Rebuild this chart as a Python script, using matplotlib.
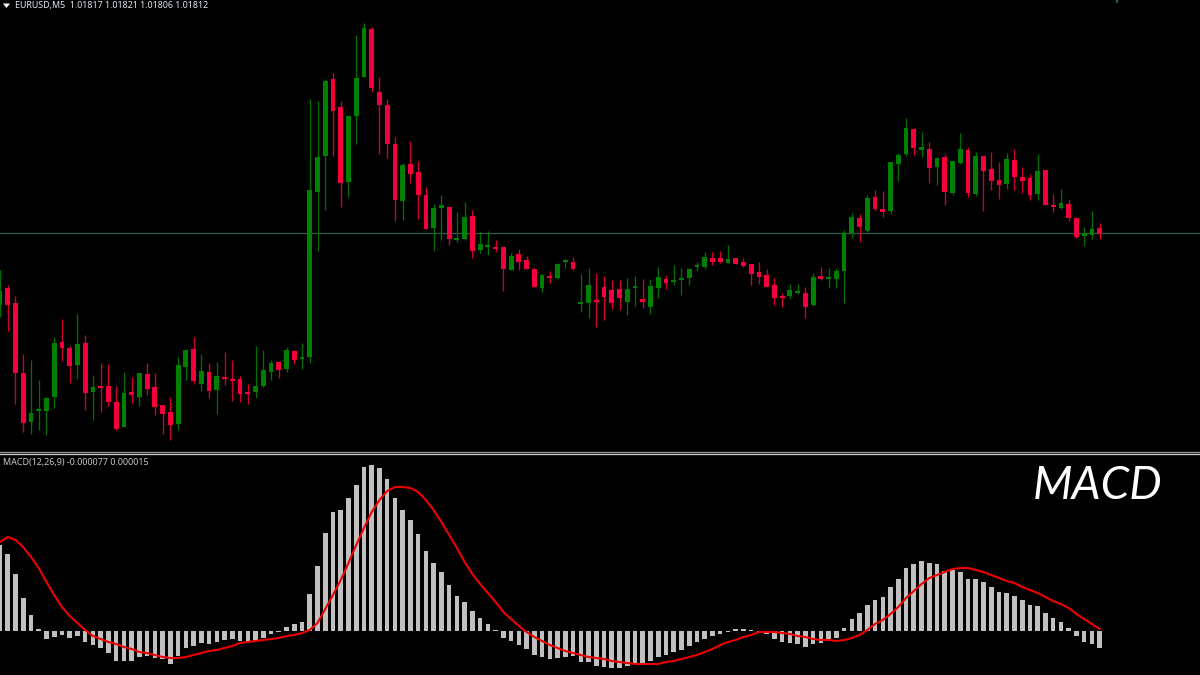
import matplotlib
matplotlib.use("Agg")
import matplotlib.pyplot as plt
import numpy as np

# Candles in vertical chart units (larger = lower price)
direction = ("GRRRGGGGRR" "GRGRRRGRGR" "RRRGGRGRGR" "RRRGGGRGRG" "GGGRRGGGRR"
             "RRGRRRGGRG" "GRGGRRGRRR" "GRGGRGGRRR" "RGGRGGRGGG" "GGRRGRRRRR"
             "RRGGRGRGGG" "GRGRRGGGRG" "RGRGGRGRRR" "GRRRGRRGRR" "GGR")
high = [270,285,296,354,360,380,397,337,319,346,314,335,375,363,364,386,372,377,373,363,
        373,405,397,357,350,337,354,363,362,352,360,376,384,346,350,360,362,347,350,343,
        99,101,79,73,101,116,35,23,27,77,99,137,163,141,161,187,204,195,207,212,
        202,210,232,231,240,247,253,249,256,268,274,271,263,259,257,274,268,273,276,280,
        280,278,276,279,279,267,275,265,268,268,262,252,252,251,245,258,258,264,262,269,
        278,293,284,284,287,273,267,268,268,230,213,214,195,190,191,162,153,118,128,132,
        142,157,154,161,133,147,152,156,152,162,153,149,167,174,154,170,194,189,200,218,
        227,211,223]
low = [317,331,404,432,434,430,435,408,361,383,379,410,420,412,406,430,427,403,406,395,
       415,434,440,430,380,384,391,398,414,385,401,402,404,398,387,380,378,372,364,369,
       363,251,210,156,207,197,144,77,92,154,158,221,220,183,219,229,251,240,245,242,
       240,258,253,255,252,291,270,270,269,287,292,283,279,268,270,312,318,327,320,309,
       310,315,306,308,314,298,289,285,295,285,271,269,265,263,263,264,267,285,284,287,
       305,307,299,294,318,306,280,288,288,303,238,242,232,211,217,214,181,156,155,157,
       183,185,205,195,164,197,196,211,190,199,189,190,193,200,200,205,212,209,221,238,
       246,239,239]
body_top = [291,288,303,373,413,409,398,343,342,348,344,343,387,386,386,402,393,392,373,374,
            387,405,412,365,350,349,371,372,376,377,379,379,392,386,370,363,362,350,351,357,
            190,157,81,79,107,116,78,28,29,92,105,144,165,164,172,195,208,205,207,238,
            217,216,244,245,247,247,256,254,260,269,275,276,264,260,262,302,285,300,287,290,
            289,289,286,299,286,277,279,280,278,269,265,257,258,258,259,258,262,264,272,275,
            285,296,290,291,293,277,276,277,271,233,217,218,198,197,209,162,155,128,129,147,
            149,158,157,161,149,150,156,156,169,180,159,160,177,178,171,170,205,203,204,218,
            233,229,228]
body_bottom = [305,305,373,423,422,410,411,397,348,366,365,393,392,388,402,429,427,395,397,389,
               407,414,425,424,367,381,384,391,390,379,381,394,394,392,386,372,370,369,360,359,
               357,192,156,111,183,182,116,77,88,105,144,200,201,174,195,229,228,208,239,240,
               239,251,250,246,249,269,270,262,269,287,288,277,278,261,269,303,303,302,297,303,
               298,302,288,302,307,288,283,281,279,278,267,267,262,262,263,264,266,274,277,287,
               298,298,296,292,307,305,279,278,279,271,233,227,231,209,212,211,164,154,148,150,
               168,167,192,193,163,193,194,171,181,185,184,177,181,195,194,205,207,208,218,237,
               236,235,234]

# MACD histogram and signal line, in chart units around the zero line
macd_hist = [86,77,57,33,16,2,-8,-6,-4,-7,-5,-11,-14,-17,-22,-30,-30,-30,-26,-25,
             -27,-28,-33,-25,-17,-15,-12,-13,-11,-9,-8,-10,-11,-10,-7,-3,-1,4,7,9,
             37,65,98,119,121,133,146,164,166,163,152,133,121,111,97,80,68,59,46,35,
             29,20,13,7,1,-7,-10,-14,-18,-24,-26,-28,-27,-26,-25,-31,-31,-35,-36,-37,
             -37,-35,-33,-32,-30,-26,-24,-21,-19,-15,-11,-8,-5,-3,-1,2,2,1,-0.5,-3,
             -8,-11,-12,-13,-16,-13,-12,-8,-7,3,12,18,26,31,34,44,52,63,67,70,
             68,67,60,61,59,52,52,49,44,39,38,35,31,26,25,18,13,9,3,-5,
             -11,-13,-17]
signal = [89,94,91,84,74,63,49,36,24,15,8,1,-5,-8,-11,-13,-16,-18,-21,-22,
          -24,-26,-27,-27,-26,-24,-22,-20,-19,-17,-15,-12,-11,-10,-9,-8,-7,-5,-4,-2,
          1,8,22,36,51,68,86,103,119,131,140,144,144,143,139,131,121,109,96,83,
          69,57,47,38,29,19,12,5,-1,-6,-10,-14,-17,-20,-22,-24,-26,-27,-28,-30,
          -31,-32,-33,-33,-33,-33,-31,-30,-28,-26,-24,-21,-18,-14,-11,-9,-6,-4,-1,-1,
          -1,-2,-3,-5,-6,-8,-9,-9,-10,-9,-7,-4,1,7,11,17,24,33,40,47,
          53,56,59,62,63,63,61,59,56,53,50,48,44,41,38,34,30,27,23,17,
          12,7,2]

last_close_level = 233
header = "EURUSD,M5  1.01817 1.01821 1.01806 1.01812"
macd_label = "MACD(12,26,9) -0.000077 0.000015"
big_label = "MACD"

W, H = 1200, 675
BAR_STEP = 7.744
GREEN, RED = "#008000", "#f5003c"

fig = plt.figure(figsize=(W / 100, H / 100), dpi=100, facecolor="black")
ax = fig.add_axes([0, 1 - 451 / H, 1, 451 / H], facecolor="black")
ax2 = fig.add_axes([0, 0, 1, 220 / H], facecolor="black")
xmax = W / BAR_STEP
x = np.arange(len(high))
colors = [GREEN if d == "G" else RED for d in direction]

ax.axhline(last_close_level, color="#2f5a4c", lw=0.9, zorder=1)
wick_colors = ["#007000" if d == "G" else "#d00034" for d in direction]
ax.vlines(x, high, low, colors=wick_colors, lw=0.95, zorder=2)
heights = np.maximum(np.array(body_bottom) - np.array(body_top), 1.5)
ax.bar(x, heights, bottom=body_top, width=4.8 / BAR_STEP, color=colors, linewidth=0, zorder=3)
ax.set_xlim(0, xmax)
ax.set_ylim(451, 0)
ax.axis("off")

ax2.bar(x, macd_hist, width=4.6 / BAR_STEP, color="#c0c0c0", linewidth=0, zorder=2)
ax2.plot(x, signal, color="#f00000", lw=1.5, zorder=3, solid_joinstyle="round")
ax2.set_xlim(0, xmax)
ax2.set_ylim(-44, 176)
ax2.axis("off")

# Separator between the panels
for y0, col in ((452, "#9a9a9a"), (454, "#d0d0d0")):
    fig.add_artist(plt.Line2D([0, 1], [1 - y0 / H] * 2, color=col, lw=0.9,
                              transform=fig.transFigure))

# Faint teal tick at the very top of the price panel
fig.add_artist(plt.Line2D([1117 / W] * 2, [1, 1 - 2 / H], color="#1d6a5c", lw=1.4,
                          transform=fig.transFigure))

txt_font = ["Noto Sans", "DejaVu Sans"]
fig.text(15 / W, 1 - 5.5 / H, header, color="#dfe6ee", fontsize=6.4,
         family=txt_font, va="center", ha="left")
fig.text(3 / W, 1 - 463 / H, macd_label, color="#c8c8c8", fontsize=6.45,
         family=txt_font, va="center", ha="left")
fig.add_artist(plt.Polygon([[3 / W, 1 - 3.5 / H], [10 / W, 1 - 3.5 / H], [6.5 / W, 1 - 8 / H]],
                           closed=True, color="white", lw=0, transform=fig.transFigure))
fig.text(1098 / W, 1 - 486 / H, big_label, color="white", fontsize=33,
         family=["Lato", "DejaVu Sans"], style="italic", fontweight="normal",
         va="center", ha="center")

fig.savefig("out.png", dpi=100, facecolor="black")
